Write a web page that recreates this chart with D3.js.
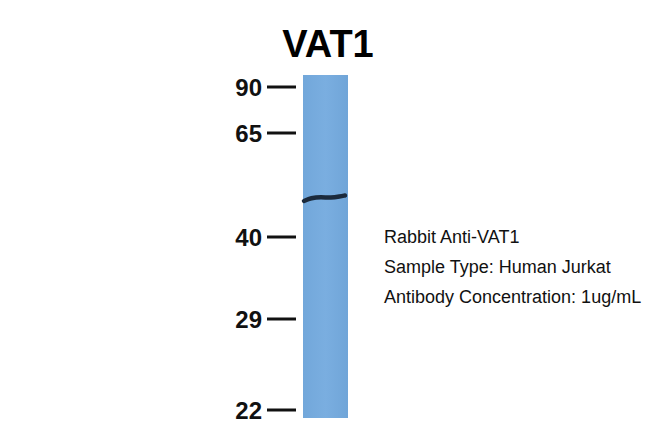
<!DOCTYPE html>
<html><head><meta charset="utf-8">
<script src="https://cdn.jsdelivr.net/npm/d3@7"></script>
<style>body{margin:0;background:#fff}</style></head>
<body><svg id="blot" width="650" height="433"></svg>
<script>
const markers = [90, 65, 40, 29, 22];
const markerY = [87, 133, 237, 319, 410];
const bands = [{kda: 48, intensity: 1}];
const notes = ["Rabbit Anti-VAT1", "Sample Type: Human Jurkat", "Antibody Concentration: 1ug/mL"];

const svg = d3.select("#blot");
const y = d3.scaleLog().domain(markers).range(markerY);
const lane = {x0: 303, x1: 348, top: 75, bottom: 418};

svg.append("text").attr("x", 328).attr("y", 57).attr("text-anchor", "middle")
  .attr("font-family", "Liberation Sans, Arial").attr("font-weight", "bold")
  .attr("font-size", 38).text("VAT1");

const grad = svg.append("defs").append("linearGradient").attr("id", "lg");
grad.append("stop").attr("offset", "0").attr("stop-color", "#72a7da");
grad.append("stop").attr("offset", "0.5").attr("stop-color", "#7aaee0");
grad.append("stop").attr("offset", "1").attr("stop-color", "#70a5d8");
svg.append("rect").attr("x", lane.x0).attr("y", lane.top)
  .attr("width", lane.x1 - lane.x0).attr("height", lane.bottom - lane.top)
  .attr("fill", "url(#lg)");

const axis = svg.append("g");
markers.forEach(m => {
  axis.append("line").attr("x1", 267).attr("x2", 296).attr("y1", y(m)).attr("y2", y(m))
    .attr("stroke", "#111").attr("stroke-width", 3);
  axis.append("text").attr("x", 262).attr("y", y(m) + 9).attr("text-anchor", "end")
    .attr("font-family", "Liberation Sans, Arial").attr("font-weight", "bold")
    .attr("font-size", 24).attr("fill", "#111").text(m);
});

bands.forEach(b => {
  const yc = y(b.kda);
  const pts = [[lane.x0 + 1, yc + 3], [lane.x0 + 8, yc], [lane.x0 + 18, yc - 1], [lane.x0 + 28, yc], [lane.x0 + 37, yc - 1.5], [lane.x1 - 3, yc - 2.5]];
  svg.append("path").attr("d", d3.line().curve(d3.curveBasis)(pts))
    .attr("fill", "none").attr("stroke", "#1b2a3c").attr("stroke-width", 4.5)
    .attr("stroke-linecap", "round").attr("opacity", b.intensity);
});

svg.append("g").selectAll("text").data(notes).join("text")
  .attr("x", 384).attr("y", (d, i) => 243 + i * 30)
  .attr("font-family", "Liberation Sans, Arial").attr("font-size", 18)
  .attr("fill", "#111").text(d => d);
</script></body></html>
